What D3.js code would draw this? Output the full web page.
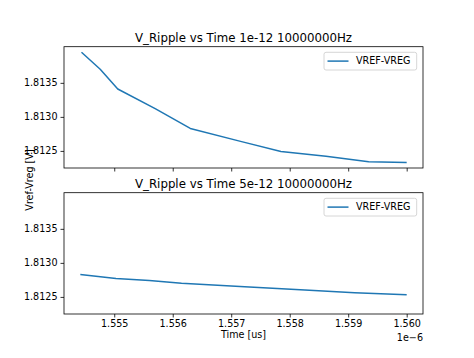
<!DOCTYPE html>
<html><head><meta charset="utf-8">
<script src="https://cdn.jsdelivr.net/npm/d3@7"></script>
<style>body{margin:0;background:#fff}svg{display:block}text{font-family:"DejaVu Sans",sans-serif;fill:#000}</style>
</head><body><svg id="c" width="474" height="358"></svg>
<script>
const titles = ["V_Ripple vs Time 1e-12 10000000Hz", "V_Ripple vs Time 5e-12 10000000Hz"];
const seriesName = "VREF-VREG";
const time1 = [1.55444, 1.55476, 1.55506, 1.55570, 1.55630, 1.55716, 1.55785, 1.55862, 1.55935, 1.56000];
const vr1 = [1.81395, 1.81370, 1.81341, 1.81312, 1.81283, 1.81264, 1.81249, 1.81242, 1.81234, 1.81233];
const time2 = [1.55442, 1.55503, 1.55560, 1.55615, 1.55723, 1.55826, 1.55911, 1.56000];
const vr2 = [1.81283, 1.81277, 1.81274, 1.81270, 1.81265, 1.81260, 1.81256, 1.81253];
const xTicks = [1.555, 1.556, 1.557, 1.558, 1.559, 1.560];
const yTicks = [1.8125, 1.8130, 1.8135];
const xLabel = "Time [us]", yLabel = "Vref-Vreg [V]", xOffset = "1e\u22126";

const svg = d3.select("#c");
const L = 64, R = 423;
const panels = [{top: 46.7, bot: 168, t: time1, v: vr1, title: titles[0], labels: false},
                {top: 192.7, bot: 314, t: time2, v: vr2, title: titles[1], labels: true}];
const allT = time1.concat(time2), allV = vr1.concat(vr2);
const [t0, t1] = d3.extent(allT), [v0, v1] = d3.extent(allV);
const tm = (t1 - t0) * 0.05, vm = (v1 - v0) * 0.05;
const x = d3.scaleLinear().domain([t0 - tm, t1 + tm]).range([L, R]);

panels.forEach(p => {
  const y = d3.scaleLinear().domain([v0 - vm, v1 + vm]).range([p.bot, p.top]);
  const g = svg.append("g");
  const xa = g.append("g").attr("transform", `translate(0,${p.bot})`)
    .call(d3.axisBottom(x).tickValues(xTicks).tickSize(3.5).tickPadding(3).tickFormat(p.labels ? d3.format(".3f") : ""));
  const ya = g.append("g").attr("transform", `translate(${L},0)`)
    .call(d3.axisLeft(y).tickValues(yTicks).tickSize(3.5).tickPadding(3).tickFormat(d3.format(".4f")));
  [xa, ya].forEach(a => { a.select(".domain").remove(); a.selectAll("text").style("font-size", "9.6px").attr("fill", "#000"); a.selectAll("line").attr("stroke", "#000").attr("stroke-width", 0.8); });
  g.append("path").datum(p.t.map((d, i) => [d, p.v[i]]))
    .attr("fill", "none").attr("stroke", "#1f77b4").attr("stroke-width", 1.5).attr("stroke-linejoin", "round")
    .attr("d", d3.line().x(d => x(d[0])).y(d => y(d[1])));
  g.append("rect").attr("x", L).attr("y", p.top).attr("width", R - L).attr("height", p.bot - p.top)
    .attr("fill", "none").attr("stroke", "#000").attr("stroke-width", 0.8);
  g.append("text").attr("x", (L + R) / 2).attr("y", p.top - 5).attr("text-anchor", "middle")
    .style("font-size", "11.8px").text(p.title);
  // legend
  const lx = 324, ly = p.top + 5.6;
  g.append("rect").attr("x", lx).attr("y", ly).attr("width", 92.7).attr("height", 17.7).attr("rx", 2)
    .attr("fill", "#fff").attr("fill-opacity", 0.8).attr("stroke", "#ccc").attr("stroke-width", 0.8);
  g.append("line").attr("x1", lx + 3.5).attr("x2", lx + 24.5).attr("y1", ly + 8.8).attr("y2", ly + 8.8)
    .attr("stroke", "#1f77b4").attr("stroke-width", 1.5);
  g.append("text").attr("x", lx + 32).attr("y", ly + 8.8).attr("dy", "0.35em").style("font-size", "9.6px").text(seriesName);
});
svg.append("text").attr("x", (L + R) / 2).attr("y", 338).attr("text-anchor", "middle").style("font-size", "9.6px").text(xLabel);
svg.append("text").attr("x", R).attr("y", 341).attr("text-anchor", "end").style("font-size", "9.6px").text(xOffset);
svg.append("text").attr("transform", "translate(33,180) rotate(-90)").attr("text-anchor", "middle").style("font-size", "9.6px").text(yLabel);
</script></body></html>
